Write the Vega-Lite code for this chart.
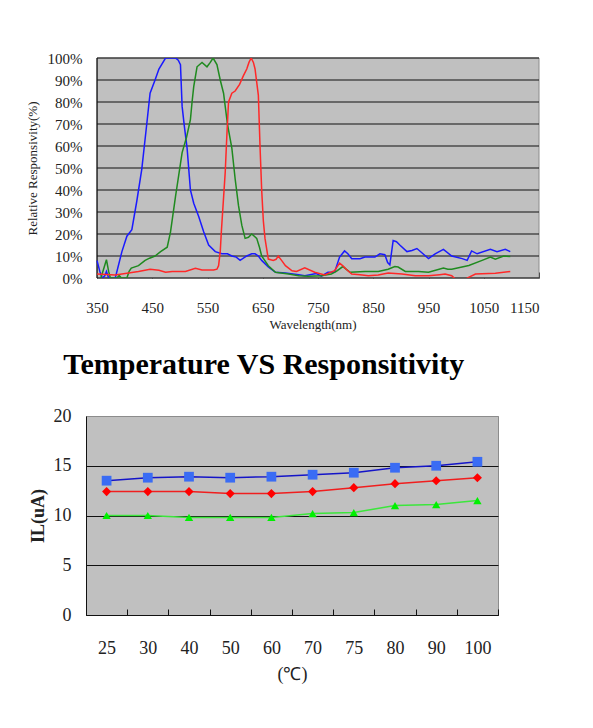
{
  "$schema": "https://vega.github.io/schema/vega-lite/v6.json",
  "background": "white",
  "padding": {"left": 26, "top": 51, "right": 5, "bottom": 5},
  "spacing": 18,
  "datasets": {
    "spectral": [
      {"s": "Blue", "wl": 350, "v": 7.9}, {"s": "Blue", "wl": 355, "v": 3}, {"s": "Blue", "wl": 359, "v": 0},
      {"s": "Blue", "wl": 364, "v": 1}, {"s": "Blue", "wl": 367, "v": 3}, {"s": "Blue", "wl": 371, "v": 0},
      {"s": "Blue", "wl": 383, "v": 0}, {"s": "Blue", "wl": 395, "v": 12}, {"s": "Blue", "wl": 404, "v": 19},
      {"s": "Blue", "wl": 413, "v": 22}, {"s": "Blue", "wl": 422, "v": 35}, {"s": "Blue", "wl": 431, "v": 49.5},
      {"s": "Blue", "wl": 440, "v": 70}, {"s": "Blue", "wl": 446, "v": 84}, {"s": "Blue", "wl": 455, "v": 90},
      {"s": "Blue", "wl": 462, "v": 95}, {"s": "Blue", "wl": 474, "v": 100}, {"s": "Blue", "wl": 492, "v": 100},
      {"s": "Blue", "wl": 497, "v": 99}, {"s": "Blue", "wl": 501, "v": 97}, {"s": "Blue", "wl": 504, "v": 78},
      {"s": "Blue", "wl": 508, "v": 69}, {"s": "Blue", "wl": 513, "v": 59}, {"s": "Blue", "wl": 519, "v": 40},
      {"s": "Blue", "wl": 525, "v": 34}, {"s": "Blue", "wl": 534, "v": 28}, {"s": "Blue", "wl": 543, "v": 21},
      {"s": "Blue", "wl": 552, "v": 15}, {"s": "Blue", "wl": 564, "v": 12}, {"s": "Blue", "wl": 576, "v": 11},
      {"s": "Blue", "wl": 586, "v": 11}, {"s": "Blue", "wl": 594, "v": 10}, {"s": "Blue", "wl": 602, "v": 9.5},
      {"s": "Blue", "wl": 609, "v": 8}, {"s": "Blue", "wl": 621, "v": 10}, {"s": "Blue", "wl": 630, "v": 11},
      {"s": "Blue", "wl": 636, "v": 11}, {"s": "Blue", "wl": 642, "v": 10}, {"s": "Blue", "wl": 648, "v": 8},
      {"s": "Blue", "wl": 660, "v": 5}, {"s": "Blue", "wl": 673, "v": 2.6}, {"s": "Blue", "wl": 691, "v": 2.3},
      {"s": "Blue", "wl": 715, "v": 1.5}, {"s": "Blue", "wl": 726, "v": 1}, {"s": "Blue", "wl": 747, "v": 2},
      {"s": "Blue", "wl": 756, "v": 0.8}, {"s": "Blue", "wl": 768, "v": 2.6}, {"s": "Blue", "wl": 780, "v": 2.6},
      {"s": "Blue", "wl": 789, "v": 9.5}, {"s": "Blue", "wl": 798, "v": 12.3}, {"s": "Blue", "wl": 804, "v": 11},
      {"s": "Blue", "wl": 811, "v": 8.8}, {"s": "Blue", "wl": 826, "v": 8.8}, {"s": "Blue", "wl": 835, "v": 9.5},
      {"s": "Blue", "wl": 853, "v": 9.5}, {"s": "Blue", "wl": 862, "v": 11}, {"s": "Blue", "wl": 871, "v": 10.6},
      {"s": "Blue", "wl": 876, "v": 7}, {"s": "Blue", "wl": 880, "v": 6}, {"s": "Blue", "wl": 886, "v": 17},
      {"s": "Blue", "wl": 892, "v": 16.5}, {"s": "Blue", "wl": 898, "v": 15}, {"s": "Blue", "wl": 911, "v": 12},
      {"s": "Blue", "wl": 920, "v": 12.5}, {"s": "Blue", "wl": 929, "v": 13.4}, {"s": "Blue", "wl": 940, "v": 11},
      {"s": "Blue", "wl": 950, "v": 8.8}, {"s": "Blue", "wl": 962, "v": 11}, {"s": "Blue", "wl": 977, "v": 13},
      {"s": "Blue", "wl": 992, "v": 10}, {"s": "Blue", "wl": 1011, "v": 8.8}, {"s": "Blue", "wl": 1020, "v": 8},
      {"s": "Blue", "wl": 1028, "v": 12.3}, {"s": "Blue", "wl": 1038, "v": 11}, {"s": "Blue", "wl": 1062, "v": 13},
      {"s": "Blue", "wl": 1074, "v": 12}, {"s": "Blue", "wl": 1089, "v": 13}, {"s": "Blue", "wl": 1098, "v": 12},

      {"s": "Green", "wl": 357, "v": 0}, {"s": "Green", "wl": 363, "v": 5}, {"s": "Green", "wl": 367, "v": 8.3},
      {"s": "Green", "wl": 371, "v": 3}, {"s": "Green", "wl": 374, "v": 0}, {"s": "Green", "wl": 386, "v": 0},
      {"s": "Green", "wl": 390, "v": 1.2}, {"s": "Green", "wl": 394, "v": 0}, {"s": "Green", "wl": 404, "v": 0},
      {"s": "Green", "wl": 408, "v": 3}, {"s": "Green", "wl": 412, "v": 4.5}, {"s": "Green", "wl": 425, "v": 5.6},
      {"s": "Green", "wl": 437, "v": 8}, {"s": "Green", "wl": 445, "v": 9}, {"s": "Green", "wl": 455, "v": 10},
      {"s": "Green", "wl": 465, "v": 12}, {"s": "Green", "wl": 477, "v": 14}, {"s": "Green", "wl": 483, "v": 21},
      {"s": "Green", "wl": 492, "v": 37}, {"s": "Green", "wl": 504, "v": 57}, {"s": "Green", "wl": 512, "v": 64},
      {"s": "Green", "wl": 519, "v": 72}, {"s": "Green", "wl": 522, "v": 80}, {"s": "Green", "wl": 525, "v": 87},
      {"s": "Green", "wl": 531, "v": 96}, {"s": "Green", "wl": 540, "v": 98}, {"s": "Green", "wl": 549, "v": 96},
      {"s": "Green", "wl": 555, "v": 98}, {"s": "Green", "wl": 560, "v": 100}, {"s": "Green", "wl": 567, "v": 97},
      {"s": "Green", "wl": 573, "v": 90}, {"s": "Green", "wl": 579, "v": 84}, {"s": "Green", "wl": 586, "v": 70},
      {"s": "Green", "wl": 594, "v": 59}, {"s": "Green", "wl": 600, "v": 45}, {"s": "Green", "wl": 606, "v": 33},
      {"s": "Green", "wl": 612, "v": 24}, {"s": "Green", "wl": 618, "v": 18}, {"s": "Green", "wl": 624, "v": 18.5},
      {"s": "Green", "wl": 630, "v": 20}, {"s": "Green", "wl": 639, "v": 18}, {"s": "Green", "wl": 644, "v": 14},
      {"s": "Green", "wl": 648, "v": 10}, {"s": "Green", "wl": 660, "v": 5.6}, {"s": "Green", "wl": 673, "v": 2.6},
      {"s": "Green", "wl": 697, "v": 1.8}, {"s": "Green", "wl": 715, "v": 1}, {"s": "Green", "wl": 732, "v": 0.8},
      {"s": "Green", "wl": 756, "v": 1}, {"s": "Green", "wl": 774, "v": 1.8}, {"s": "Green", "wl": 783, "v": 3},
      {"s": "Green", "wl": 795, "v": 5.2}, {"s": "Green", "wl": 808, "v": 2.6}, {"s": "Green", "wl": 835, "v": 3},
      {"s": "Green", "wl": 859, "v": 3}, {"s": "Green", "wl": 877, "v": 4}, {"s": "Green", "wl": 889, "v": 5.2},
      {"s": "Green", "wl": 895, "v": 5}, {"s": "Green", "wl": 908, "v": 3}, {"s": "Green", "wl": 932, "v": 3},
      {"s": "Green", "wl": 950, "v": 2.6}, {"s": "Green", "wl": 977, "v": 4.5}, {"s": "Green", "wl": 985, "v": 4},
      {"s": "Green", "wl": 992, "v": 4}, {"s": "Green", "wl": 1023, "v": 5.7}, {"s": "Green", "wl": 1047, "v": 8},
      {"s": "Green", "wl": 1062, "v": 9.5}, {"s": "Green", "wl": 1071, "v": 8.5}, {"s": "Green", "wl": 1086, "v": 10},
      {"s": "Green", "wl": 1098, "v": 9.8},

      {"s": "Red", "wl": 350, "v": 1.8}, {"s": "Red", "wl": 383, "v": 1.4}, {"s": "Red", "wl": 425, "v": 3},
      {"s": "Red", "wl": 446, "v": 4}, {"s": "Red", "wl": 462, "v": 3.5}, {"s": "Red", "wl": 474, "v": 2.6},
      {"s": "Red", "wl": 486, "v": 3}, {"s": "Red", "wl": 510, "v": 3}, {"s": "Red", "wl": 528, "v": 4.4},
      {"s": "Red", "wl": 540, "v": 3.6}, {"s": "Red", "wl": 561, "v": 3.6}, {"s": "Red", "wl": 567, "v": 4},
      {"s": "Red", "wl": 570, "v": 5.6}, {"s": "Red", "wl": 573, "v": 12}, {"s": "Red", "wl": 575, "v": 21},
      {"s": "Red", "wl": 582, "v": 48}, {"s": "Red", "wl": 585, "v": 65}, {"s": "Red", "wl": 588, "v": 80},
      {"s": "Red", "wl": 594, "v": 84}, {"s": "Red", "wl": 600, "v": 85}, {"s": "Red", "wl": 608, "v": 88},
      {"s": "Red", "wl": 615, "v": 92}, {"s": "Red", "wl": 621, "v": 95}, {"s": "Red", "wl": 625, "v": 98},
      {"s": "Red", "wl": 629, "v": 100}, {"s": "Red", "wl": 633, "v": 98}, {"s": "Red", "wl": 636, "v": 95},
      {"s": "Red", "wl": 642, "v": 83}, {"s": "Red", "wl": 645, "v": 60}, {"s": "Red", "wl": 648, "v": 40},
      {"s": "Red", "wl": 651, "v": 26}, {"s": "Red", "wl": 654, "v": 18}, {"s": "Red", "wl": 660, "v": 8.6},
      {"s": "Red", "wl": 669, "v": 8}, {"s": "Red", "wl": 674, "v": 8.5}, {"s": "Red", "wl": 678, "v": 10},
      {"s": "Red", "wl": 684, "v": 8}, {"s": "Red", "wl": 691, "v": 5.6}, {"s": "Red", "wl": 703, "v": 3.3},
      {"s": "Red", "wl": 711, "v": 3}, {"s": "Red", "wl": 726, "v": 4.6}, {"s": "Red", "wl": 744, "v": 2.6},
      {"s": "Red", "wl": 762, "v": 1.4}, {"s": "Red", "wl": 780, "v": 3.3}, {"s": "Red", "wl": 789, "v": 6.8},
      {"s": "Red", "wl": 795, "v": 5.5}, {"s": "Red", "wl": 801, "v": 4}, {"s": "Red", "wl": 811, "v": 1.8},
      {"s": "Red", "wl": 826, "v": 1.5}, {"s": "Red", "wl": 841, "v": 1}, {"s": "Red", "wl": 859, "v": 1.4},
      {"s": "Red", "wl": 877, "v": 2.3}, {"s": "Red", "wl": 902, "v": 1.8}, {"s": "Red", "wl": 926, "v": 1},
      {"s": "Red", "wl": 950, "v": 1}, {"s": "Red", "wl": 970, "v": 1.5}, {"s": "Red", "wl": 980, "v": 1.8},
      {"s": "Red", "wl": 992, "v": 1}, {"s": "Red", "wl": 1001, "v": -1}, {"s": "Red", "wl": 1017, "v": -1},
      {"s": "Red", "wl": 1020, "v": 0}, {"s": "Red", "wl": 1035, "v": 1.8}, {"s": "Red", "wl": 1071, "v": 2.2},
      {"s": "Red", "wl": 1098, "v": 3}
    ],
    "pctgrid": [
      {"g": 0}, {"g": 10}, {"g": 20}, {"g": 30}, {"g": 40}, {"g": 50},
      {"g": 60}, {"g": 70}, {"g": 80}, {"g": 90}, {"g": 100}
    ],
    "temp": [
      {"s": "Blue", "t": 25, "il": 13.5}, {"s": "Blue", "t": 30, "il": 13.8}, {"s": "Blue", "t": 40, "il": 13.9},
      {"s": "Blue", "t": 50, "il": 13.8}, {"s": "Blue", "t": 60, "il": 13.9}, {"s": "Blue", "t": 70, "il": 14.1},
      {"s": "Blue", "t": 75, "il": 14.3}, {"s": "Blue", "t": 80, "il": 14.8}, {"s": "Blue", "t": 90, "il": 15.0},
      {"s": "Blue", "t": 100, "il": 15.4},
      {"s": "Red", "t": 25, "il": 12.4}, {"s": "Red", "t": 30, "il": 12.4}, {"s": "Red", "t": 40, "il": 12.4},
      {"s": "Red", "t": 50, "il": 12.2}, {"s": "Red", "t": 60, "il": 12.2}, {"s": "Red", "t": 70, "il": 12.4},
      {"s": "Red", "t": 75, "il": 12.8}, {"s": "Red", "t": 80, "il": 13.2}, {"s": "Red", "t": 90, "il": 13.5},
      {"s": "Red", "t": 100, "il": 13.8},
      {"s": "Green", "t": 25, "il": 10.0}, {"s": "Green", "t": 30, "il": 10.0}, {"s": "Green", "t": 40, "il": 9.8},
      {"s": "Green", "t": 50, "il": 9.8}, {"s": "Green", "t": 60, "il": 9.8}, {"s": "Green", "t": 70, "il": 10.2},
      {"s": "Green", "t": 75, "il": 10.3}, {"s": "Green", "t": 80, "il": 11.0}, {"s": "Green", "t": 90, "il": 11.1},
      {"s": "Green", "t": 100, "il": 11.5}
    ]
  },
  "vconcat": [
    {
      "width": 453,
      "height": 220,
      "view": {"fill": null, "stroke": null},
      "layer": [
        {
          "data": {"values": [{}]},
          "mark": {"type": "rect", "fill": "#c0c0c0", "stroke": "#8c8c8c", "strokeWidth": 1},
          "encoding": {
            "x": {
              "datum": 350,
              "type": "quantitative",
              "scale": {"domain": [330, 1150], "nice": false, "zero": false},
              "axis": {
                "values": [350, 450, 550, 650, 750, 850, 950, 1050, 1150],
                "format": "d", "title": "Wavelength(nm)", "grid": false, "domain": false,
                "tickSize": -6, "labelPadding": 28, "labelFontSize": 15, "titleFontSize": 13, "titlePadding": 3
              }
            },
            "x2": {"datum": 1150},
            "y": {
              "datum": 0,
              "type": "quantitative",
              "scale": {"domain": [0, 100], "nice": false},
              "axis": {
                "values": [0, 10, 20, 30, 40, 50, 60, 70, 80, 90, 100],
                "labelExpr": "datum.value + '%'", "labelOverlap": false, "title": "Relative Responsivity(%)",
                "grid": false, "domain": false, "ticks": false, "labelPadding": 4,
                "labelFontSize": 15, "titleFontSize": 13, "titlePadding": 8
              }
            },
            "y2": {"datum": 100}
          }
        },
        {
          "data": {"name": "pctgrid"},
          "mark": {"type": "rule", "color": "#111111", "strokeWidth": 1.2},
          "encoding": {
            "x": {
              "datum": 350,
              "type": "quantitative",
              "axis": {
                "values": [350, 450, 550, 650, 750, 850, 950, 1050, 1150],
                "format": "d", "title": "Wavelength(nm)", "grid": false, "domain": false,
                "tickSize": -6, "labelPadding": 28, "labelFontSize": 15, "titleFontSize": 13, "titlePadding": 3
              }
            },
            "x2": {"datum": 1150},
            "y": {
              "field": "g",
              "type": "quantitative",
              "axis": {
                "values": [0, 10, 20, 30, 40, 50, 60, 70, 80, 90, 100],
                "labelExpr": "datum.value + '%'", "labelOverlap": false, "title": "Relative Responsivity(%)",
                "grid": false, "domain": false, "ticks": false, "labelPadding": 4,
                "labelFontSize": 15, "titleFontSize": 13, "titlePadding": 8
              }
            }
          }
        },
        {
          "data": {"values": [{}]},
          "mark": {"type": "rule", "color": "#111111", "strokeWidth": 1.2},
          "encoding": {
            "x": {
              "datum": 350,
              "type": "quantitative",
              "axis": {
                "values": [350, 450, 550, 650, 750, 850, 950, 1050, 1150],
                "format": "d", "title": "Wavelength(nm)", "grid": false, "domain": false,
                "tickSize": -6, "labelPadding": 28, "labelFontSize": 15, "titleFontSize": 13, "titlePadding": 3
              }
            },
            "y": {
              "datum": 0,
              "type": "quantitative",
              "axis": {
                "values": [0, 10, 20, 30, 40, 50, 60, 70, 80, 90, 100],
                "labelExpr": "datum.value + '%'", "labelOverlap": false, "title": "Relative Responsivity(%)",
                "grid": false, "domain": false, "ticks": false, "labelPadding": 4,
                "labelFontSize": 15, "titleFontSize": 13, "titlePadding": 8
              }
            },
            "y2": {"datum": 100}
          }
        },
        {
          "data": {"name": "spectral"},
          "mark": {"type": "line", "strokeWidth": 1.5, "clip": true},
          "encoding": {
            "x": {
              "field": "wl",
              "type": "quantitative",
              "axis": {
                "values": [350, 450, 550, 650, 750, 850, 950, 1050, 1150],
                "format": "d", "title": "Wavelength(nm)", "grid": false, "domain": false,
                "tickSize": -6, "labelPadding": 28, "labelFontSize": 15, "titleFontSize": 13, "titlePadding": 3
              }
            },
            "y": {
              "field": "v",
              "type": "quantitative",
              "axis": {
                "values": [0, 10, 20, 30, 40, 50, 60, 70, 80, 90, 100],
                "labelExpr": "datum.value + '%'", "labelOverlap": false, "title": "Relative Responsivity(%)",
                "grid": false, "domain": false, "ticks": false, "labelPadding": 4,
                "labelFontSize": 15, "titleFontSize": 13, "titlePadding": 8
              }
            },
            "color": {
              "field": "s",
              "type": "nominal",
              "scale": {"domain": ["Blue", "Green", "Red"], "range": ["#1a1aff", "#1f8a1f", "#ff2828"]},
              "legend": null
            }
          }
        }
      ]
    },
    {
      "width": 412,
      "height": 199,
      "title": {
        "text": "Temperature VS Responsitivity",
        "fontSize": 30,
        "fontWeight": "bold",
        "anchor": "middle",
        "frame": "bounds",
        "offset": 27,
        "color": "black"
      },
      "data": {"name": "temp"},
      "encoding": {
        "x": {
          "field": "t",
          "type": "ordinal",
          "bandPosition": 0.5,
          "scale": {"type": "band", "paddingInner": 0, "paddingOuter": 0},
          "axis": {
            "title": "(℃)",
            "labelAngle": 0,
            "tickBand": "extent",
            "tickSize": -6,
            "grid": false,
            "labelPadding": 30,
            "labelFontSize": 18,
            "titleFontSize": 18,
            "titlePadding": 8
          }
        },
        "y": {
          "field": "il",
          "type": "quantitative",
          "scale": {"domain": [0, 20], "nice": false},
          "axis": {
            "values": [0, 5, 10, 15, 20],
            "title": "IL(uA)",
            "grid": true,
            "gridColor": {"condition": {"test": "datum.value == 20", "value": "#8c8c8c"}, "value": "#111111"},
            "ticks": false,
            "labelPadding": 15,
            "labelFontSize": 18,
            "titleFontSize": 18,
            "titleFontWeight": "bold",
            "titlePadding": 6
          }
        }
      },
      "layer": [
        {
          "mark": {"type": "line", "strokeWidth": 1.5},
          "encoding": {
            "color": {
              "field": "s",
              "type": "nominal",
              "scale": {"domain": ["Blue", "Red", "Green"], "range": ["#1414c8", "#f01e1e", "#3ce63c"]},
              "legend": null
            }
          }
        },
        {
          "mark": {"type": "point", "filled": true, "opacity": 1},
          "encoding": {
            "color": {
              "field": "s",
              "type": "nominal",
              "scale": {"domain": ["Blue", "Red", "Green"], "range": ["#3a6cf4", "#ff0000", "#00f000"]},
              "legend": null
            },
            "shape": {
              "field": "s",
              "type": "nominal",
              "scale": {"domain": ["Blue", "Red", "Green"], "range": ["square", "diamond", "triangle-up"]},
              "legend": null
            },
            "size": {
              "field": "s",
              "type": "nominal",
              "scale": {"domain": ["Blue", "Red", "Green"], "range": [95, 70, 110]},
              "legend": null
            }
          }
        }
      ],
      "resolve": {"scale": {"color": "independent"}}
    }
  ],
  "config": {
    "font": "Liberation Serif",
    "view": {"fill": "#c0c0c0", "stroke": "#8c8c8c"},
    "axis": {
      "domainColor": "#111111",
      "tickColor": "#111111",
      "gridColor": "#111111",
      "gridWidth": 1.2,
      "labelColor": "#222222",
      "titleColor": "#222222",
      "labelFont": "Liberation Serif",
      "titleFont": "Liberation Serif",
      "titleFontWeight": "normal"
    }
  }
}
